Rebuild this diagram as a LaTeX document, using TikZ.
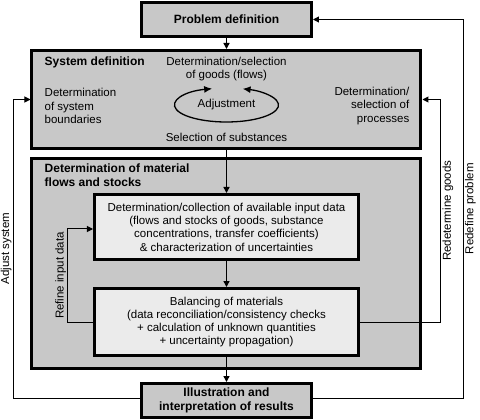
\documentclass[tikz,border=0pt]{standalone}
\usepackage{fontspec}
\setmainfont{Liberation Sans}
\usetikzlibrary{positioning,arrows.meta,calc}
\definecolor{boxgray}{HTML}{C8C8C8}
\definecolor{palegray}{HTML}{EBEBEB}
\newcommand{\bfsize}{\fontsize{12pt}{13.6pt}\selectfont\bfseries}
\tikzset{
  stage/.style={draw=black, line width=3pt, fill=boxgray, align=center,
    font=\bfsize, minimum width=170pt, minimum height=34pt},
  panel/.style={draw=black, line width=3pt, fill=boxgray,
    minimum width=389pt},
  task/.style={draw=black, line width=3pt, fill=palegray, align=center,
    minimum width=264pt},
  txt/.style={inner sep=0pt, align=left},
  flow/.style={-{Triangle[length=6pt,width=6pt]}, line width=1.5pt},
  back/.style={-{Triangle[length=6pt,width=6pt]}, line width=1pt},
  cyc/.style={{Latex[length=8pt,width=7pt]}-{Latex[length=8pt,width=7pt]}, line width=1.3pt},
  side/.style={rotate=90, inner sep=1.5pt},
}
\begin{document}
\begin{tikzpicture}[font=\fontsize{11.5pt}{13.3pt}\selectfont]
    \useasboundingbox (-226.5pt,19.5pt) rectangle (253.5pt,-400.5pt);
    \node[stage] (prob) at (0,0) {Problem definition};
    \node[panel, minimum height=98pt, below=11pt of prob] (sys) {};
    \node[panel, minimum height=210pt, below=7pt of sys] (mat) {};
    \node[stage, below=12pt of mat] (res) {Illustration and\\interpretation of results};
    \node[task, minimum height=65pt, below=36pt of mat.north] (inp)
      {Determination/collection of available input data\\(flows and stocks of goods, substance\\concentrations, transfer coefficients)\\\& characterization of uncertainties};
    \node[task, minimum height=67pt, below=26pt of inp] (bal)
      {Balancing of materials\\(data reconciliation/consistency checks\\+ calculation of unknown quantities\\+ uncertainty propagation)};
    % texts of the system definition
    \node[txt, anchor=west, font=\bfsize] (systitle) at ([shift={(14pt,-13pt)}]sys.north west) {System definition};
    \node[txt, align=center] (goods) at ([yshift=-20pt]sys.north) {Determination/selection\\of goods (flows)};
    \node[txt] (adj) at ([yshift=-5.5pt]sys.center) {Adjustment};
    \node[txt] (subst) at ([yshift=13pt]sys.south) {Selection of substances};
    \node[txt, anchor=west] (bound) at ([shift={(14pt,-6.5pt)}]sys.west) {Determination\\of system\\boundaries};
    \node[txt, anchor=east, align=right] (proc) at ([shift={(-13pt,-6.5pt)}]sys.east) {Determination/\\selection of\\processes};
    \node[txt, anchor=west, font=\bfsize] (mattitle) at ([shift={(14pt,-18pt)}]mat.north west) {Determination of material\\flows and stocks};
    \draw[cyc] ([shift={(106:52pt and 17pt)}]adj.center) arc[start angle=106, end angle=432, x radius=52pt, y radius=17pt];
    % main flow
    \draw[flow] (prob.south) -- (sys.north);
    \draw[flow] (sys.south) -- (inp.north);
    \draw[flow] (inp.south) -- (bal.north);
    \draw[flow] (bal.south) -- (res.north);
    % feedback loops
    \draw[back] ([yshift=2.5pt]res.west) -| ([xshift=-17pt]sys.west)
      node[side, pos=0.75, anchor=south] {Adjust system} -- (sys.west);
    \draw[back] ([yshift=2.5pt]res.east) -| ([xshift=150pt]prob.east)
      node[side, pos=0.75, anchor=north] {Redefine problem} -- (prob.east);
    \draw[back] (bal.east) -| ([xshift=18pt]sys.east)
      node[side, pos=0.75, anchor=north] {Redetermine goods} -- (sys.east);
    \draw[back] (bal.west) -| ([shift={(-25pt,-2pt)}]inp.west)
      node[side, pos=0.75, anchor=south] {Refine input data} -- ([yshift=-2pt]inp.west);
  \end{tikzpicture}
\end{document}
